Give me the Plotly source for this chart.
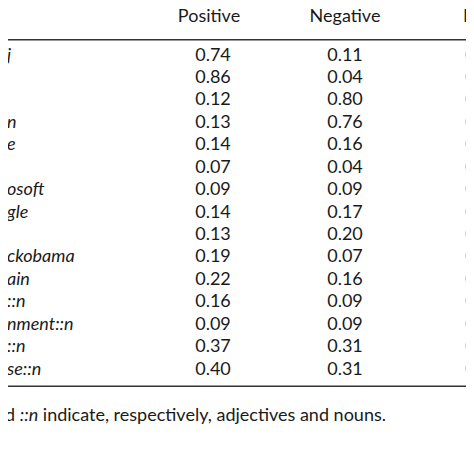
import plotly.graph_objects as go

# cropped fragments of the row labels (left side is cut off in the picture)
labels = ["j", "", "", "n", "e", "", "osoft", "gle", "", "ckobama",
          "ain", "::n", "nment::n", "::n", "se::n"]
positive = ["0.74", "0.86", "0.12", "0.13", "0.14", "0.07", "0.09", "0.14",
            "0.13", "0.19", "0.22", "0.16", "0.09", "0.37", "0.40"]
negative = ["0.11", "0.04", "0.80", "0.76", "0.16", "0.04", "0.09", "0.17",
            "0.20", "0.07", "0.16", "0.09", "0.09", "0.31", "0.31"]
neutral = ["0.15", "0.10", "0.08", "0.11", "0.70", "0.89", "0.82", "0.69",
           "0.67", "0.74", "0.62", "0.75", "0.82", "0.32", "0.29"]
headers = ["Positive", "Negative", "Neutral"]

rows = list(range(len(labels)))
col_x = [205, 337, 475]
font = dict(family="Lato, Open Sans, sans-serif", size=18, color="#1a1a1a")

fig = go.Figure()
fig.add_trace(go.Scatter(x=[-1] * len(rows), y=rows, text=["<i>%s</i>" % l for l in labels],
                         mode="text", textposition="middle right", textfont=font))
for cx, vals in zip(col_x, [positive, negative, neutral]):
    fig.add_trace(go.Scatter(x=[cx] * len(rows), y=rows, text=vals, mode="text",
                             textposition="middle center", textfont=font))
fig.add_trace(go.Scatter(x=[201, 337, 455], y=[-1.7] * 3, text=headers, mode="text",
                         textposition=["middle center", "middle center", "middle right"],
                         textfont=font))
fig.add_trace(go.Scatter(x=[-3], y=[16.05], text=["d <i>::n</i> indicate, respectively, adjectives and nouns."],
                         mode="text", textposition="middle right", textfont=font))

for yy, w in [(-0.72, 1.5), (14.72, 1.5)]:
    fig.add_shape(type="line", x0=0, x1=474, y0=yy, y1=yy, line=dict(color="#333", width=w))

fig.update_xaxes(range=[0, 474], visible=False)
fig.update_yaxes(range=[(474 - 48) / 22.43, -48 / 22.43], visible=False)
fig.update_layout(width=474, height=474, margin=dict(l=0, r=0, t=0, b=0),
                  showlegend=False, plot_bgcolor="white", paper_bgcolor="white")
fig.write_html("out.html")
